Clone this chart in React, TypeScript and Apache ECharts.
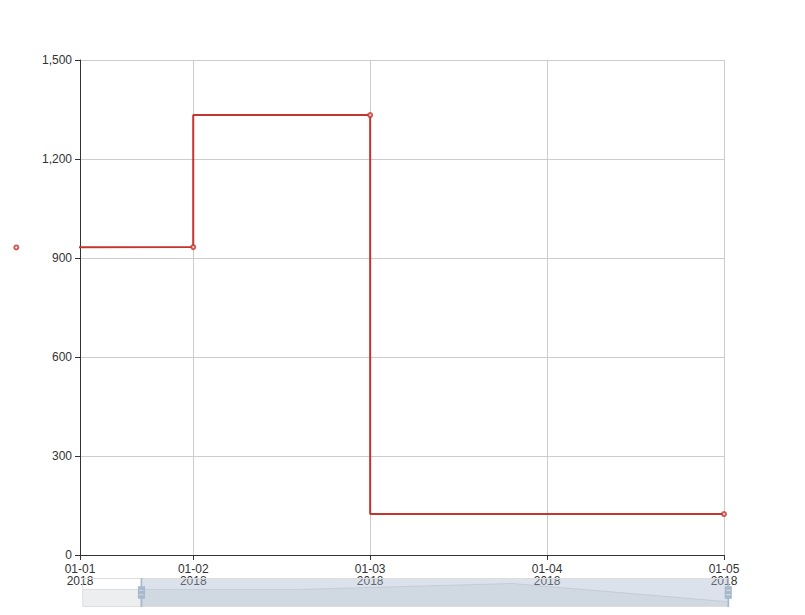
import React, { useEffect, useRef } from "react";
import * as echarts from "echarts";

const dates = ["2018-01-01", "2018-01-02", "2018-01-03", "2018-01-05"];
const values = [932, 933, 1333, 124];
const yTicks = { min: 0, max: 1500, interval: 300 };
const zoomStart = 9;
const zoomEnd = 100;
const DAY = 24 * 3600 * 1000;

const FONT = "'Liberation Sans', Arial, sans-serif";
const HANDLE =
  "path://M8.2,13.6V3.9H6.3v9.7H3.1v14.9h3.3v9.7h1.8v-9.7h3.3V13.6H8.2z M9.7,24.4H4.8v-1.4h4.9V24.4z M9.7,19.1H4.8v-1.4h4.9V19.1z";

export default function App() {
  const ref = useRef<HTMLDivElement>(null);
  useEffect(() => {
    if (!ref.current) return;
    const chart = echarts.init(ref.current, null, { renderer: "svg" });
    const data = dates.map((d, i) => [d, values[i]]);
    const vMin = Math.min(...values);
    const vMax = Math.max(...values);
    const pad = (vMax - vMin) * 0.3;
    chart.setOption({
      animation: false,
      textStyle: { fontFamily: FONT },
      grid: [
        { left: 80, right: 81, top: 60, bottom: 60, containLabel: false },
        { left: 83, right: 78, top: 578, height: 29, containLabel: false },
      ],
      xAxis: [
        {
          type: "time",
          gridIndex: 0,
          minInterval: DAY,
          axisLine: { show: true, lineStyle: { color: "#333" } },
          axisTick: { show: true, lineStyle: { color: "#333" } },
          axisLabel: {
            color: "#333",
            fontSize: 12,
            fontFamily: FONT,
            formatter: "{MM}-{dd}\n{yyyy}",
            showMinLabel: true,
            showMaxLabel: true,
            hideOverlap: false,
          },
          splitLine: { show: true, lineStyle: { color: "#ccc" } },
        },
        {
          type: "category",
          gridIndex: 1,
          data: dates,
          boundaryGap: false,
          show: false,
        },
      ],
      yAxis: [
        {
          type: "value",
          gridIndex: 0,
          min: yTicks.min,
          max: yTicks.max,
          interval: yTicks.interval,
          axisLine: { show: true, lineStyle: { color: "#333" } },
          axisTick: { show: true, lineStyle: { color: "#333" } },
          axisLabel: { color: "#333", fontSize: 12, fontFamily: FONT },
          splitLine: { show: true, lineStyle: { color: "#ccc" } },
        },
        {
          type: "value",
          gridIndex: 1,
          min: vMin - pad,
          max: vMax + pad,
          show: false,
        },
      ],
      dataZoom: [
        {
          type: "slider",
          xAxisIndex: 0,
          filterMode: "none",
          start: zoomStart,
          end: zoomEnd,
          left: 82,
          right: 76,
          top: 578,
          height: 29,
          showDataShadow: false,
          backgroundColor: "rgba(47,69,84,0)",
          borderColor: "#ddd",
          borderRadius: 0,
          fillerColor: "rgba(167,183,204,0.4)",
          handleIcon: HANDLE,
          handleSize: "100%",
          handleStyle: { color: "#a7b7cc", borderWidth: 0 },
          moveHandleSize: 0,
          brushSelect: false,
          showDetail: false,
          textStyle: { color: "#333" },
        },
      ],
      series: [
        {
          type: "line",
          step: "start",
          data,
          symbol: "none",
          clip: true,
          itemStyle: { color: "#c23531" },
          lineStyle: { color: "#c23531", width: 2 },
        },
        {
          type: "scatter",
          data,
          clip: false,
          symbol: "emptyCircle",
          symbolSize: 4,
          itemStyle: { color: "#c23531", borderColor: "#c23531", borderWidth: 1 },
          z: 3,
        },
        {
          type: "line",
          xAxisIndex: 1,
          yAxisIndex: 1,
          data: values,
          symbol: "none",
          silent: true,
          z: 1,
          lineStyle: { color: "#2f4554", width: 0.5, opacity: 0.3 },
          areaStyle: { color: "rgba(47,69,84,0.3)", opacity: 0.3, origin: "start" },
        },
      ],
    });
    return () => chart.dispose();
  }, []);
  return (
    <div
      ref={ref}
      style={{ position: "absolute", left: 0, top: 0, width: 805, height: 615 }}
    />
  );
}
